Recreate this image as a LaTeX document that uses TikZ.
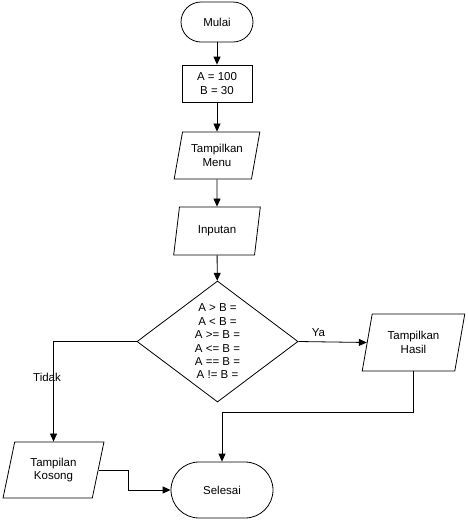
\documentclass[tikz,border=0pt]{standalone}
\usepackage{fontspec}
\setmainfont{Liberation Sans}
\usetikzlibrary{shapes.geometric,arrows.meta}
\begin{document}
\begin{tikzpicture}[x=1pt,y=-1pt,
  every node/.style={font=\fontsize{11.5}{13.4}\selectfont, align=center},
  line/.style={draw=black, line width=0.8pt},
  arr/.style={line, -{Triangle[length=8pt,width=7pt]}},
  term/.style={draw, line width=0.8pt, rectangle, inner sep=0pt},
  procbox/.style={draw, line width=0.8pt, rectangle, inner sep=0pt, minimum width=70pt, minimum height=37pt},
  iobox/.style={draw, line width=0.8pt, trapezium, trapezium left angle=74, trapezium right angle=106, trapezium stretches=true, inner sep=0pt},
  decbox/.style={draw, line width=0.8pt, diamond, aspect=1.33, inner sep=0pt, minimum width=161pt, minimum height=121pt},
  lbl/.style={inner sep=0pt}
]
\useasboundingbox (0,0) rectangle (467,520);

\node[term, minimum width=72pt, minimum height=40pt, rounded corners=20pt] (mulai) at (217,22) {Mulai};
\node[procbox] (init) at (217,83.5) {A = 100\\B = 30};
\node[iobox, minimum width=86pt, minimum height=47pt] (menu) at (217,155.5) {Tampilkan\\Menu};
\node[iobox, minimum width=87pt, minimum height=48pt] (input) at (217,231) {Inputan};
\node[decbox] (dec) at (217.5,341.5) {A > B =\\A < B =\\A >= B =\\A <= B =\\A == B =\\A != B =};
\node[iobox, minimum width=103pt, minimum height=57pt] (hasil) at (413.5,342.5) {Tampilkan\\Hasil};
\node[iobox, minimum width=101pt, minimum height=56pt] (kosong) at (53.5,470) {Tampilan\\Kosong};
\node[term, minimum width=102pt, minimum height=56pt, rounded corners=28pt] (selesai) at (222,490) {Selesai};

\node[lbl] (ya) at (318.5,333) {Ya};
\node[lbl] (tidak) at (47,377) {Tidak};

\coordinate (j1) at (222,412);
\coordinate (k1) at (128,490);

\draw[arr] (mulai) -- (init);
\draw[arr] (init) -- (menu);
\draw[arr] (menu) -- (input);
\draw[arr] (input) -- (dec);
\draw[arr] (dec.east) -- (hasil.west);
\draw[arr] (dec.west) -| (kosong.north);
\draw[line] (hasil.south) |- (j1);
\draw[arr] (j1) -- (selesai.north);
\draw[line] (kosong.east) -| (k1);
\draw[arr] (k1) -- (selesai.west);
\end{tikzpicture}
\end{document}
